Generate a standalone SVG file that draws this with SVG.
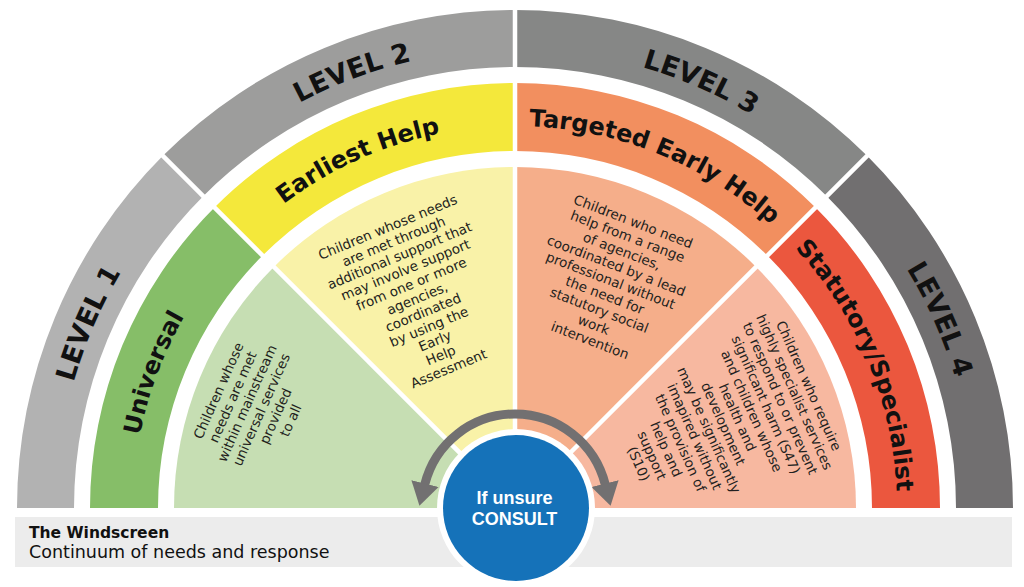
<svg xmlns="http://www.w3.org/2000/svg" width="1024" height="587" viewBox="0 0 1024 587">
<style>
.lbl{font-family:"DejaVu Sans",sans-serif;font-weight:bold;fill:#111111}
.lvl{font-size:27px}
.mid{font-size:24px}
.desc{font-family:"DejaVu Sans",sans-serif;font-size:13.5px;fill:#231f20;text-anchor:middle}
.sep{stroke:#ffffff;stroke-width:4.5;fill:none}
.ctext{font-family:"Liberation Sans",Arial,sans-serif;font-weight:bold;font-size:18px;fill:#ffffff;text-anchor:middle}
</style>
<defs>
<path id="arcOuter" d="M 56 508 A 459 459 0 0 1 974 508"/>
<path id="arcMid" d="M 133 508 A 382 382 0 0 1 897 508"/>
<marker id="ahead" markerUnits="userSpaceOnUse" viewBox="-1 -15 24 30" markerWidth="24" markerHeight="30" refX="0" refY="0" orient="auto-start-reverse">
<path d="M -1 -14 L 22 0 L -1 14 Z" fill="#727071"/>
</marker>
</defs>
<rect width="1024" height="587" fill="#ffffff"/>

<g id="level-1">
<path d="M 17 508 A 498 498 0 0 1 162.86 155.86 L 203.17 196.17 A 441 441 0 0 0 74 508 Z" fill="#b2b2b2"/>
<text class="lbl lvl"><textPath href="#arcOuter" startOffset="13%" text-anchor="middle">LEVEL 1</textPath></text>
</g>
<g id="level-2">
<path d="M 162.86 155.86 A 498 498 0 0 1 515 10 L 515 67 A 441 441 0 0 0 203.17 196.17 Z" fill="#9d9d9c"/>
<text class="lbl lvl"><textPath href="#arcOuter" startOffset="38.6%" text-anchor="middle">LEVEL 2</textPath></text>
</g>
<g id="level-3">
<path d="M 515 10 A 498 498 0 0 1 867.14 155.86 L 826.83 196.17 A 441 441 0 0 0 515 67 Z" fill="#868786"/>
<text class="lbl lvl"><textPath href="#arcOuter" startOffset="63.1%" text-anchor="middle">LEVEL 3</textPath></text>
</g>
<g id="level-4">
<path d="M 867.14 155.86 A 498 498 0 0 1 1013 508 L 956 508 A 441 441 0 0 0 826.83 196.17 Z" fill="#716f70"/>
<text class="lbl lvl"><textPath href="#arcOuter" startOffset="86.7%" text-anchor="middle">LEVEL 4</textPath></text>
</g>

<g id="universal">
<path d="M 90 508 A 425 425 0 0 1 214.48 207.48 L 262.56 255.56 A 357 357 0 0 0 158 508 Z" fill="#86be68"/>
<text class="lbl mid"><textPath href="#arcMid" startOffset="11.4%" text-anchor="middle">Universal</textPath></text>
</g>
<g id="earliest-help">
<path d="M 214.48 207.48 A 425 425 0 0 1 515 83 L 515 151 A 357 357 0 0 0 262.56 255.56 Z" fill="#f4e83b"/>
<text class="lbl mid"><textPath href="#arcMid" startOffset="36.5%" text-anchor="middle">Earliest Help</textPath></text>
</g>
<g id="targeted-early-help">
<path d="M 515 83 A 425 425 0 0 1 815.52 207.48 L 767.44 255.56 A 357 357 0 0 0 515 151 Z" fill="#f28f5f"/>
<text class="lbl mid"><textPath href="#arcMid" startOffset="62.3%" text-anchor="middle">Targeted Early Help</textPath></text>
</g>
<g id="statutory-specialist">
<path d="M 815.52 207.48 A 425 425 0 0 1 940 508 L 872 508 A 357 357 0 0 0 767.44 255.56 Z" fill="#eb573e"/>
<text class="lbl mid"><textPath href="#arcMid" startOffset="87.4%" text-anchor="middle">Statutory/Specialist</textPath></text>
</g>

<g id="universal-needs">
<path d="M 515 508 L 174 508 A 341 341 0 0 1 273.88 266.88 Z" fill="#c6deb3"/>
<text class="desc" transform="translate(223.7 390.6) rotate(-66)">
<tspan x="0" y="0">Children whose</tspan>
<tspan x="0" dy="15.6">needs are met</tspan>
<tspan x="0" dy="15.6">within mainstream</tspan>
<tspan x="0" dy="15.6">universal services</tspan>
<tspan x="0" dy="15.6">provided</tspan>
<tspan x="0" dy="15.6">to all</tspan>
</text>
</g>
<g id="earliest-help-needs">
<path d="M 515 508 L 273.88 266.88 A 341 341 0 0 1 515 167 Z" fill="#f9f2a8"/>
<text class="desc" transform="translate(391.5 230.7) rotate(-22.5)">
<tspan x="0" y="0">Children whose needs</tspan>
<tspan x="0" dy="15.4">are met through</tspan>
<tspan x="0" dy="15.4">additional support that</tspan>
<tspan x="0" dy="15.4">may involve support</tspan>
<tspan x="0" dy="15.4">from one or more</tspan>
<tspan x="0" dy="15.4">agencies,</tspan>
<tspan x="0" dy="15.4">coordinated</tspan>
<tspan x="0" dy="15.4">by using the</tspan>
<tspan x="0" dy="15.4">Early</tspan>
<tspan x="0" dy="15.4">Help</tspan>
<tspan x="0" dy="15.4">Assessment</tspan>
</text>
</g>
<g id="targeted-needs">
<path d="M 515 508 L 515 167 A 341 341 0 0 1 756.12 266.88 Z" fill="#f5ae8a"/>
<text class="desc" transform="translate(633.6 226.7) rotate(21)">
<tspan x="0" y="0">Children who need</tspan>
<tspan x="0" dy="15.8">help from a range</tspan>
<tspan x="0" dy="15.8">of agencies,</tspan>
<tspan x="0" dy="15.8">coordinated by a lead</tspan>
<tspan x="0" dy="15.8">professional without</tspan>
<tspan x="0" dy="15.8">the need for</tspan>
<tspan x="0" dy="15.8">statutory social</tspan>
<tspan x="0" dy="15.8">work</tspan>
<tspan x="0" dy="15.8">intervention</tspan>
</text>
</g>
<g id="statutory-needs">
<path d="M 515 508 L 756.12 266.88 A 341 341 0 0 1 856 508 Z" fill="#f7b8a0"/>
<text class="desc" transform="translate(805.3 389.6) rotate(66)">
<tspan x="0" y="0">Children who require</tspan>
<tspan x="0" dy="15.6">highly specialist services</tspan>
<tspan x="0" dy="15.6">to respond to or prevent</tspan>
<tspan x="0" dy="15.6">significant harm (S47)</tspan>
<tspan x="0" dy="15.6">and children whose</tspan>
<tspan x="0" dy="15.6">health and</tspan>
<tspan x="0" dy="15.6">development</tspan>
<tspan x="0" dy="15.6">may be significantly</tspan>
<tspan x="0" dy="15.6">imapired without</tspan>
<tspan x="0" dy="15.6">the provision of</tspan>
<tspan x="0" dy="15.6">help and</tspan>
<tspan x="0" dy="15.6">support</tspan>
<tspan x="0" dy="15.6">(S10)</tspan>
</text>
</g>

<g id="separators">
<line class="sep" x1="515" y1="508" x2="157.9" y2="150.9"/>
<line class="sep" x1="515" y1="508" x2="515" y2="3"/>
<line class="sep" x1="515" y1="508" x2="872.1" y2="150.9"/>
</g>

<g id="windscreen">
<rect x="15" y="517" width="997" height="50" fill="#ececec"/>
<text x="29" y="538" font-family="DejaVu Sans, sans-serif" font-weight="bold" font-size="15.5" fill="#111111">The Windscreen</text>
<text x="29" y="557.5" font-family="DejaVu Sans, sans-serif" font-size="17.5" fill="#111111">Continuum of needs and response</text>
</g>

<g id="connectors">
<path d="M 424.76 484.5 A 93 93 0 0 1 605.24 484.5" fill="none" stroke="#727071" stroke-width="9" marker-start="url(#ahead)" marker-end="url(#ahead)"/>
</g>

<g id="consult">
<circle cx="516" cy="508" r="79" fill="#ffffff"/>
<circle cx="516" cy="508" r="73" fill="#1572b9"/>
<text class="ctext" x="514.5" y="504">If unsure</text>
<text class="ctext" x="514.5" y="525">CONSULT</text>
</g>
</svg>
